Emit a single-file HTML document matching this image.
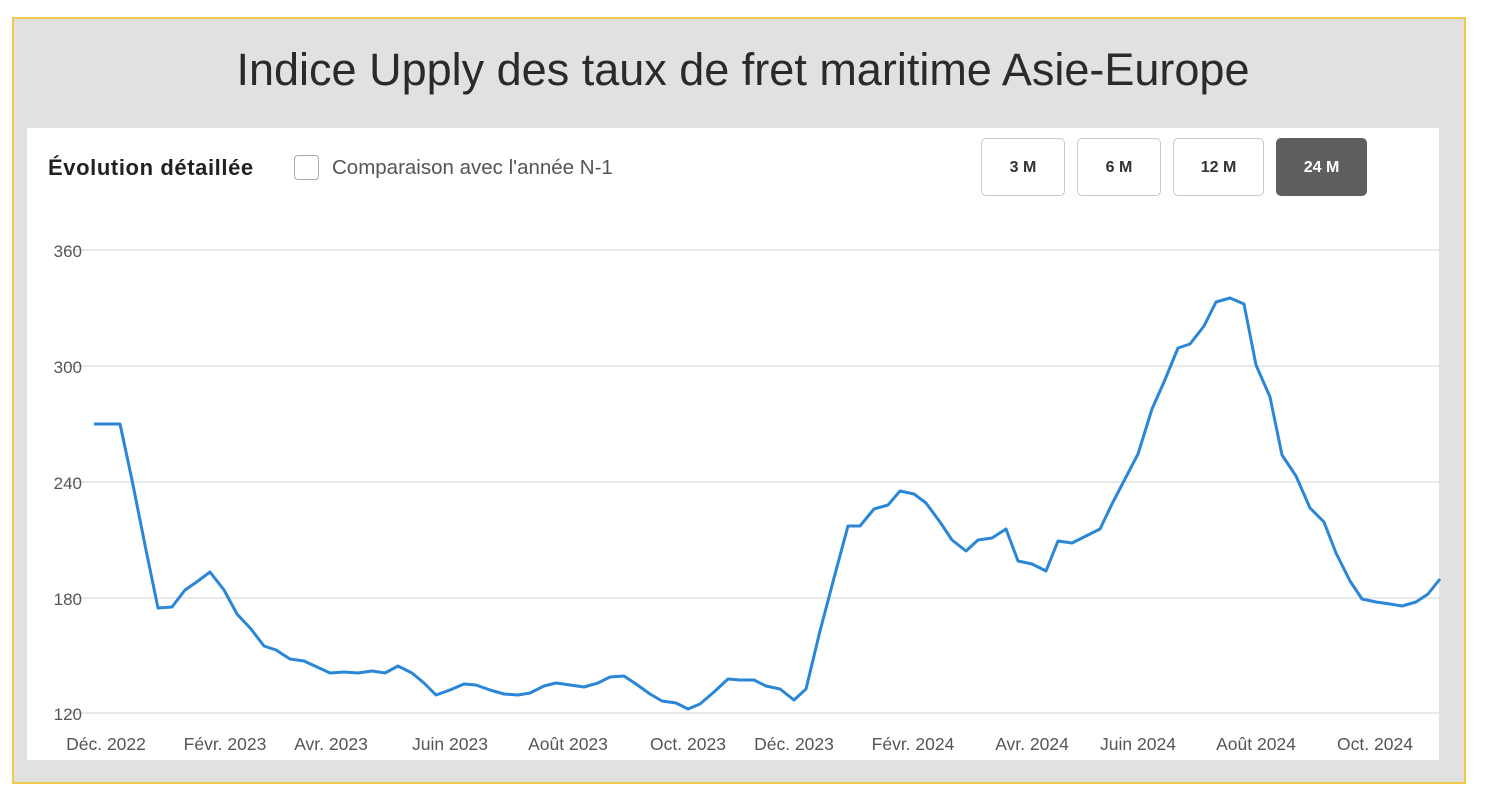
<!DOCTYPE html>
<html><head><meta charset="utf-8"><style>
body{margin:0;width:1486px;height:808px;background:#fff;font-family:"Liberation Sans",sans-serif;position:relative;overflow:hidden}
#outer{position:absolute;left:12px;top:17px;width:1454px;height:767px;background:#e1e1e1;border:2px solid #f0c84a;box-sizing:border-box}
#title{position:absolute;left:0;top:44px;width:1486px;text-align:center;font-size:45px;color:#2a2a2a}
#panel{position:absolute;left:27px;top:128px;width:1412px;height:632px;background:#fff}
.btn{position:absolute;top:138px;height:58px;border:1px solid #c8c8c8;border-radius:5px;background:#fff;box-sizing:border-box;text-align:center;line-height:58px;font-size:16px;font-weight:bold;color:#333}
</style></head><body>
<div id="outer"></div>
<div id="title">Indice Upply des taux de fret maritime Asie-Europe</div>
<div id="panel"></div>
<div style="position:absolute;left:48px;top:155px;font-size:22px;font-weight:bold;color:#222;letter-spacing:0.6px">Évolution détaillée</div>
<div style="position:absolute;left:294px;top:155px;width:25px;height:25px;border:1px solid #aaa;border-radius:4px;box-sizing:border-box"></div>
<div style="position:absolute;left:332px;top:156px;font-size:20.5px;color:#555">Comparaison avec l'année N-1</div>
<div class="btn" style="left:981px;width:84px">3 M</div>
<div class="btn" style="left:1077px;width:84px">6 M</div>
<div class="btn" style="left:1173px;width:91px">12 M</div>
<div class="btn" style="left:1276px;width:91px;background:#5f5f5f;color:#fff;border-color:#5f5f5f">24 M</div>
<svg width="1486" height="808" style="position:absolute;left:0;top:0">
<g stroke="#dcdcdc" stroke-width="1.2">
<line x1="65" x2="1440" y1="250" y2="250"/><line x1="65" x2="1440" y1="366" y2="366"/><line x1="65" x2="1440" y1="482" y2="482"/><line x1="65" x2="1440" y1="598" y2="598"/><line x1="65" x2="1440" y1="713" y2="713"/></g>
<g font-size="17" fill="#555" text-anchor="end" font-family="Liberation Sans, sans-serif">
<text x="82" y="257">360</text><text x="82" y="373">300</text><text x="82" y="489">240</text><text x="82" y="605">180</text><text x="82" y="720">120</text></g>
<g font-size="17.5" fill="#555" text-anchor="middle" font-family="Liberation Sans, sans-serif">
<text x="106" y="750">Déc. 2022</text><text x="225" y="750">Févr. 2023</text><text x="331" y="750">Avr. 2023</text><text x="450" y="750">Juin 2023</text><text x="568" y="750">Août 2023</text><text x="688" y="750">Oct. 2023</text><text x="794" y="750">Déc. 2023</text><text x="913" y="750">Févr. 2024</text><text x="1032" y="750">Avr. 2024</text><text x="1138" y="750">Juin 2024</text><text x="1256" y="750">Août 2024</text><text x="1375" y="750">Oct. 2024</text></g>
<polyline fill="none" stroke="#2a86d6" stroke-width="3" stroke-linejoin="round" points="94,424 120,424 132,480 146,550 158,608 172,607 185,590 198,581 210,572 224,590 237,614 251,629 264,646 276,650 290,659 304,661 317,667 330,673 344,672 358,673 372,671 385,673 398,666 412,673 424,683 436,695 450,690 464,684 476,685 490,690 504,694 518,695 530,693 544,686 556,683 570,685 584,687 598,683 610,677 624,676 636,684 650,694 662,701 676,703 688,709 700,704 714,692 728,679 740,680 754,680 766,686 780,689 794,700 806,689 820,631 834,578 848,526 860,526 874,509 888,505 900,491 914,494 926,503 940,522 952,540 966,551 978,540 992,538 1006,529 1018,561 1032,564 1046,571 1058,541 1072,543 1086,536 1100,529 1112,504 1126,477 1138,454 1152,409 1164,382 1178,348 1190,344 1204,326 1216,302 1230,298 1244,304 1256,365 1270,397 1282,455 1296,476 1310,508 1324,522 1336,553 1350,581 1362,599 1376,602 1390,604 1402,606 1416,602 1428,594 1440,579"/>
</svg>
</body></html>
